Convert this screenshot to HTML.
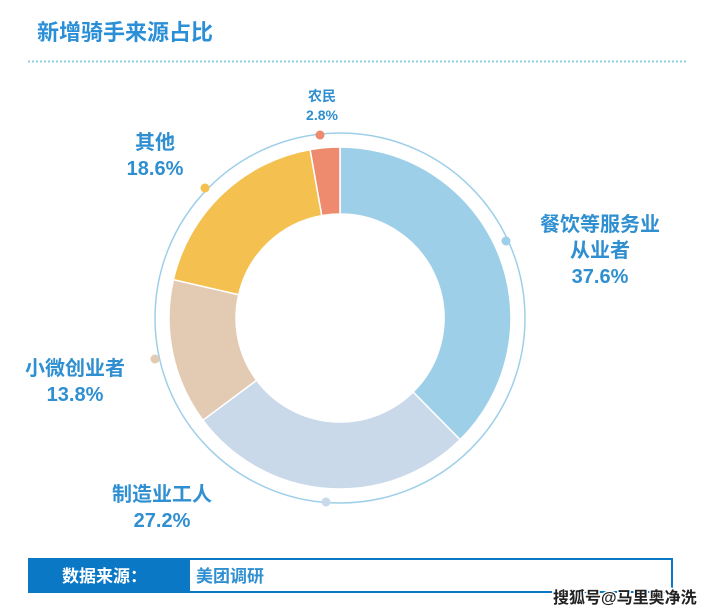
<!DOCTYPE html>
<html><head><meta charset="utf-8"><style>
body{margin:0;width:706px;height:612px;background:#fff;overflow:hidden;font-family:"Liberation Sans","Noto Sans CJK SC",sans-serif;}
</style></head><body>
<svg width="706" height="612" xmlns="http://www.w3.org/2000/svg" style="position:absolute;left:0;top:0">
<text x="37" y="40" font-size="22" font-weight="bold" fill="#2a8fd6" font-family="Liberation Sans, Noto Sans CJK SC, sans-serif">新增骑手来源占比</text>
<line x1="28" y1="61.5" x2="688" y2="61.5" stroke="#8ecde6" stroke-width="2" stroke-dasharray="2,2"/>
<circle cx="340" cy="318" r="185" fill="none" stroke="#9ecfe8" stroke-width="1.5"/>
<g stroke="#fff" stroke-width="1.5">
<path d="M340,147 A171,171 0 0 1 460.1,439.7 L413.1,392.0 A104,104 0 0 0 340,214 Z" fill="#9ecfe8"/>
<path d="M460.1,439.7 A171,171 0 0 1 202.9,420.2 L256.6,380.2 A104,104 0 0 0 413.1,392.0 Z" fill="#c9d9ea"/>
<path d="M202.9,420.2 A171,171 0 0 1 173.4,279.6 L238.7,294.7 A104,104 0 0 0 256.6,380.2 Z" fill="#e2cab3"/>
<path d="M173.4,279.6 A171,171 0 0 1 310.1,149.6 L321.8,215.6 A104,104 0 0 0 238.7,294.7 Z" fill="#f4c04f"/>
<path d="M310.1,149.6 A171,171 0 0 1 340,147 L340,214 A104,104 0 0 0 321.8,215.6 Z" fill="#ee8a6e"/>
</g>
<circle cx="506" cy="241" r="4.5" fill="#9ecfe8"/>
<circle cx="326" cy="502" r="4.5" fill="#c9d9ea"/>
<circle cx="155" cy="359" r="4.5" fill="#e2cab3"/>
<circle cx="205" cy="188" r="4.5" fill="#f4c04f"/>
<circle cx="320" cy="135" r="4.5" fill="#ee8a6e"/>
<g font-weight="bold" fill="#2f8fd0" text-anchor="middle" font-family="Liberation Sans, Noto Sans CJK SC, sans-serif" font-size="20">
<text x="322" y="101" font-size="14">农民</text>
<text x="322" y="120" font-size="14">2.8%</text>
<text x="155" y="149">其他</text>
<text x="155" y="175">18.6%</text>
<text x="600" y="231">餐饮等服务业</text>
<text x="600" y="257">从业者</text>
<text x="600" y="283">37.6%</text>
<text x="75" y="375">小微创业者</text>
<text x="75" y="401">13.8%</text>
<text x="162" y="501">制造业工人</text>
<text x="162" y="527">27.2%</text>
</g>
<rect x="29" y="559" width="643" height="33" fill="#fff" stroke="#0a78c4" stroke-width="2"/>
<rect x="28" y="558" width="162" height="35" fill="#0a78c4"/>
<text x="62" y="582" font-size="17" font-weight="bold" fill="#fff" font-family="Liberation Sans, Noto Sans CJK SC, sans-serif">数据来源：</text>
<text x="196" y="582" font-size="17" font-weight="bold" fill="#2f8fd0" font-family="Liberation Sans, Noto Sans CJK SC, sans-serif">美团调研</text>
<text x="553" y="603" font-size="16" font-weight="bold" fill="#222" stroke="#fff" stroke-width="3" paint-order="stroke" font-family="Liberation Sans, Noto Sans CJK SC, sans-serif">搜狐号@马里奥净洗</text>
</svg>
</body></html>
